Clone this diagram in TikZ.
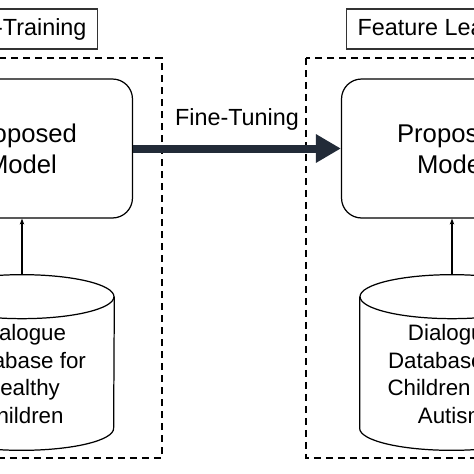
\documentclass[tikz,border=0pt]{standalone}
\usepackage{fontspec}
\setmainfont{Liberation Sans}
\usetikzlibrary{shapes,arrows.meta,positioning}
\definecolor{navy}{HTML}{222B38}

\begin{document}
\begin{tikzpicture}[x=0.02cm, y=-0.02cm,
    model/.style={draw, rectangle, rounded corners=0.4cm, minimum width=4.42cm, minimum height=2.78cm, align=center, font=\fontsize{14.6}{17.6}\selectfont, line width=0.7pt},
    stage/.style={draw=black!80, rectangle, minimum height=0.8cm, inner xsep=0.22cm, font=\fontsize{13.3}{16}\selectfont, line width=0.6pt},
    phase/.style={draw, dash pattern=on 0.14cm off 0.1cm, line width=0.8pt},
    dbbox/.style={rectangle, inner sep=0pt, minimum width=3.68cm, minimum height=3.5cm},
    dbtext/.style={align=center, font=\fontsize{12.7}{15.9}\selectfont},
    dbline/.style={line width=0.7pt}]
    \useasboundingbox (0,0) rectangle (474,474);
    \clip (0,0) rectangle (474,474);

    % pre-training side
    \node[stage, anchor=east] (pre) at (98,29) {Pre-Training};
    \draw[phase] (-118,58) rectangle (162,458);
    \node[model] (pm1) at (22,148.5) {Proposed\\Model};
    \node[dbbox] (db1) at (22,362.5) {};
    \node[dbtext] (db1text) at ([yshift=-0.23cm]db1.center) {Dialogue\\Database for\\Healthy\\Children};
    \draw[dbline] ([yshift=-0.44cm]db1.north) ellipse [x radius=1.84cm, y radius=0.44cm];
    \draw[dbline] ([yshift=-0.44cm]db1.north west) -- ([yshift=0.44cm]db1.south west) arc[start angle=180, end angle=360, x radius=1.84cm, y radius=0.44cm] -- ([yshift=-0.44cm]db1.north east);

    % feature learning side
    \node[stage, anchor=west] (feat) at (346,29) {Feature Learning};
    \draw[phase] (306,58) rectangle (598,458);
    \node[model] (pm2) at (452,148.5) {Proposed\\Model};
    \node[dbbox] (db2) at (452,362.5) {};
    \node[dbtext] (db2text) at ([yshift=-0.23cm]db2.center) {Dialogue\\Database for\\Children with\\Autism};
    \draw[dbline] ([yshift=-0.44cm]db2.north) ellipse [x radius=1.84cm, y radius=0.44cm];
    \draw[dbline] ([yshift=-0.44cm]db2.north west) -- ([yshift=0.44cm]db2.south west) arc[start angle=180, end angle=360, x radius=1.84cm, y radius=0.44cm] -- ([yshift=-0.44cm]db2.north east);

    \draw[-{Stealth[length=0.12cm, width=0.09cm]}, line width=0.7pt] (db1.north) -- (pm1.south);
    \draw[-{Stealth[length=0.12cm, width=0.09cm]}, line width=0.7pt] (db2.north) -- (pm2.south);

    \draw[navy, line width=0.16cm, -{Triangle[length=0.5cm, width=0.54cm]}] (pm1) -- node[above, inner sep=0.28cm, text=black, font=\fontsize{13.3}{16}\selectfont] (ft) {Fine-Tuning} (pm2);
\end{tikzpicture}
\end{document}
